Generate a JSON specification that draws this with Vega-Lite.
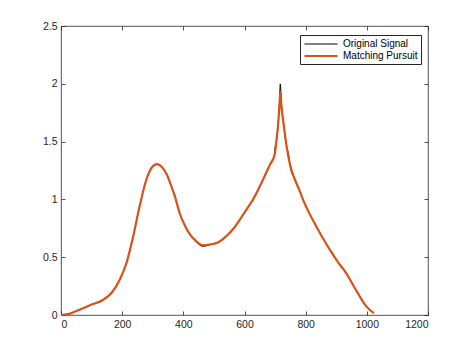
{
  "$schema": "https://vega.github.io/schema/vega-lite/v6.json",
  "width": 367,
  "height": 289,
  "autosize": {"type": "none"},
  "padding": {"left": 61, "top": 26, "right": 46, "bottom": 40},
  "background": "white",
  "config": {
    "font": "Liberation Sans",
    "view": {"stroke": "#262626", "strokeWidth": 0.8},
    "axis": {
      "domain": false,
      "grid": false,
      "tickColor": "#262626",
      "tickWidth": 0.8,
      "tickSize": -4,
      "labelColor": "#262626",
      "labelFontSize": 10.5,
      "labelPadding": 8,
      "titleFontSize": 10
    }
  },
  "datasets": {
    "sig": [
      {"x": 0, "y": 0.0, "series": "Original Signal"},
      {"x": 30, "y": 0.012, "series": "Original Signal"},
      {"x": 60, "y": 0.045, "series": "Original Signal"},
      {"x": 100, "y": 0.09, "series": "Original Signal"},
      {"x": 137, "y": 0.13, "series": "Original Signal"},
      {"x": 165, "y": 0.19, "series": "Original Signal"},
      {"x": 192, "y": 0.305, "series": "Original Signal"},
      {"x": 214, "y": 0.45, "series": "Original Signal"},
      {"x": 236, "y": 0.68, "series": "Original Signal"},
      {"x": 257, "y": 0.94, "series": "Original Signal"},
      {"x": 279, "y": 1.17, "series": "Original Signal"},
      {"x": 298, "y": 1.28, "series": "Original Signal"},
      {"x": 314, "y": 1.306, "series": "Original Signal"},
      {"x": 330, "y": 1.28, "series": "Original Signal"},
      {"x": 345, "y": 1.22, "series": "Original Signal"},
      {"x": 360, "y": 1.12, "series": "Original Signal"},
      {"x": 372, "y": 1.03, "series": "Original Signal"},
      {"x": 388, "y": 0.88, "series": "Original Signal"},
      {"x": 405, "y": 0.775, "series": "Original Signal"},
      {"x": 421, "y": 0.7, "series": "Original Signal"},
      {"x": 440, "y": 0.638, "series": "Original Signal"},
      {"x": 464, "y": 0.594, "series": "Original Signal"},
      {"x": 490, "y": 0.61, "series": "Original Signal"},
      {"x": 513, "y": 0.627, "series": "Original Signal"},
      {"x": 540, "y": 0.68, "series": "Original Signal"},
      {"x": 565, "y": 0.75, "series": "Original Signal"},
      {"x": 601, "y": 0.89, "series": "Original Signal"},
      {"x": 628, "y": 1.0, "series": "Original Signal"},
      {"x": 655, "y": 1.14, "series": "Original Signal"},
      {"x": 683, "y": 1.3, "series": "Original Signal"},
      {"x": 697, "y": 1.37, "series": "Original Signal"},
      {"x": 700, "y": 1.45, "series": "Original Signal"},
      {"x": 704, "y": 1.5, "series": "Original Signal"},
      {"x": 710, "y": 1.65, "series": "Original Signal"},
      {"x": 714, "y": 1.82, "series": "Original Signal"},
      {"x": 717, "y": 2.0, "series": "Original Signal"},
      {"x": 721, "y": 1.82, "series": "Original Signal"},
      {"x": 728, "y": 1.65, "series": "Original Signal"},
      {"x": 737, "y": 1.47, "series": "Original Signal"},
      {"x": 746, "y": 1.36, "series": "Original Signal"},
      {"x": 749, "y": 1.29, "series": "Original Signal"},
      {"x": 765, "y": 1.17, "series": "Original Signal"},
      {"x": 781, "y": 1.07, "series": "Original Signal"},
      {"x": 791, "y": 1.0, "series": "Original Signal"},
      {"x": 810, "y": 0.89, "series": "Original Signal"},
      {"x": 830, "y": 0.79, "series": "Original Signal"},
      {"x": 855, "y": 0.67, "series": "Original Signal"},
      {"x": 879, "y": 0.565, "series": "Original Signal"},
      {"x": 905, "y": 0.46, "series": "Original Signal"},
      {"x": 933, "y": 0.36, "series": "Original Signal"},
      {"x": 955, "y": 0.26, "series": "Original Signal"},
      {"x": 977, "y": 0.16, "series": "Original Signal"},
      {"x": 995, "y": 0.085, "series": "Original Signal"},
      {"x": 1009, "y": 0.045, "series": "Original Signal"},
      {"x": 1023, "y": 0.017, "series": "Original Signal"},
      {"x": 0, "y": 0.0, "series": "Matching Pursuit"},
      {"x": 30, "y": 0.012, "series": "Matching Pursuit"},
      {"x": 60, "y": 0.045, "series": "Matching Pursuit"},
      {"x": 100, "y": 0.09, "series": "Matching Pursuit"},
      {"x": 137, "y": 0.13, "series": "Matching Pursuit"},
      {"x": 165, "y": 0.19, "series": "Matching Pursuit"},
      {"x": 192, "y": 0.305, "series": "Matching Pursuit"},
      {"x": 214, "y": 0.45, "series": "Matching Pursuit"},
      {"x": 236, "y": 0.68, "series": "Matching Pursuit"},
      {"x": 257, "y": 0.94, "series": "Matching Pursuit"},
      {"x": 279, "y": 1.17, "series": "Matching Pursuit"},
      {"x": 298, "y": 1.28, "series": "Matching Pursuit"},
      {"x": 314, "y": 1.306, "series": "Matching Pursuit"},
      {"x": 330, "y": 1.28, "series": "Matching Pursuit"},
      {"x": 345, "y": 1.22, "series": "Matching Pursuit"},
      {"x": 360, "y": 1.12, "series": "Matching Pursuit"},
      {"x": 372, "y": 1.03, "series": "Matching Pursuit"},
      {"x": 388, "y": 0.88, "series": "Matching Pursuit"},
      {"x": 405, "y": 0.775, "series": "Matching Pursuit"},
      {"x": 421, "y": 0.7, "series": "Matching Pursuit"},
      {"x": 440, "y": 0.643, "series": "Matching Pursuit"},
      {"x": 464, "y": 0.603, "series": "Matching Pursuit"},
      {"x": 490, "y": 0.612, "series": "Matching Pursuit"},
      {"x": 513, "y": 0.628, "series": "Matching Pursuit"},
      {"x": 540, "y": 0.68, "series": "Matching Pursuit"},
      {"x": 565, "y": 0.75, "series": "Matching Pursuit"},
      {"x": 601, "y": 0.89, "series": "Matching Pursuit"},
      {"x": 628, "y": 1.0, "series": "Matching Pursuit"},
      {"x": 655, "y": 1.14, "series": "Matching Pursuit"},
      {"x": 683, "y": 1.3, "series": "Matching Pursuit"},
      {"x": 699, "y": 1.39, "series": "Matching Pursuit"},
      {"x": 704, "y": 1.5, "series": "Matching Pursuit"},
      {"x": 710, "y": 1.65, "series": "Matching Pursuit"},
      {"x": 714, "y": 1.8, "series": "Matching Pursuit"},
      {"x": 717, "y": 1.93, "series": "Matching Pursuit"},
      {"x": 721, "y": 1.8, "series": "Matching Pursuit"},
      {"x": 728, "y": 1.65, "series": "Matching Pursuit"},
      {"x": 737, "y": 1.47, "series": "Matching Pursuit"},
      {"x": 748, "y": 1.31, "series": "Matching Pursuit"},
      {"x": 765, "y": 1.17, "series": "Matching Pursuit"},
      {"x": 781, "y": 1.07, "series": "Matching Pursuit"},
      {"x": 791, "y": 1.0, "series": "Matching Pursuit"},
      {"x": 810, "y": 0.89, "series": "Matching Pursuit"},
      {"x": 830, "y": 0.79, "series": "Matching Pursuit"},
      {"x": 855, "y": 0.67, "series": "Matching Pursuit"},
      {"x": 879, "y": 0.565, "series": "Matching Pursuit"},
      {"x": 905, "y": 0.46, "series": "Matching Pursuit"},
      {"x": 933, "y": 0.36, "series": "Matching Pursuit"},
      {"x": 955, "y": 0.26, "series": "Matching Pursuit"},
      {"x": 977, "y": 0.16, "series": "Matching Pursuit"},
      {"x": 995, "y": 0.085, "series": "Matching Pursuit"},
      {"x": 1009, "y": 0.045, "series": "Matching Pursuit"},
      {"x": 1023, "y": 0.017, "series": "Matching Pursuit"}
    ]
  },
  "data": {"name": "sig"},
  "layer": [
    {
      "transform": [{"filter": "datum.series === 'Original Signal'"}],
      "mark": {"type": "line", "interpolate": "monotone"},
      "encoding": {
        "x": {"field": "x", "type": "quantitative", "scale": {"domain": [0, 1200], "nice": false},
              "axis": {"orient": "bottom", "title": null, "values": [0, 200, 400, 600, 800, 1000, 1200], "format": "d"}},
        "y": {"field": "y", "type": "quantitative", "scale": {"domain": [0, 2.5], "nice": false},
              "axis": {"orient": "left", "title": null, "values": [0, 0.5, 1, 1.5, 2, 2.5], "format": "~g"}},
        "color": {"field": "series", "type": "nominal",
                  "scale": {"domain": ["Original Signal", "Matching Pursuit"], "range": ["#000000", "#D95319"]},
                  "legend": {
                    "title": null, "orient": "none", "legendX": 239, "legendY": 9,
                    "fillColor": "white", "strokeColor": "#262626", "padding": 3,
                    "symbolType": "M-1,0H5", "symbolSize": 121, "symbolStrokeWidth": 1.5,
                    "labelOffset": 26, "labelFontSize": 10, "labelColor": "#000000",
                    "rowPadding": 0,
                    "encode": {"symbols": {"update": {"strokeWidth": {"signal": "datum.value === 'Original Signal' ? 1 : 2"}}}}
                  }},
        "strokeWidth": {"field": "series", "type": "nominal",
                        "scale": {"domain": ["Original Signal", "Matching Pursuit"], "range": [1, 2.2]}, "legend": null}
      }
    },
    {
      "transform": [{"filter": "datum.series === 'Matching Pursuit'"}],
      "mark": {"type": "line", "interpolate": "monotone"},
      "encoding": {
        "x": {"field": "x", "type": "quantitative", "scale": {"domain": [0, 1200], "nice": false},
              "axis": {"orient": "top", "title": null, "values": [0, 200, 400, 600, 800, 1000, 1200], "labels": false}},
        "y": {"field": "y", "type": "quantitative", "scale": {"domain": [0, 2.5], "nice": false},
              "axis": {"orient": "right", "title": null, "values": [0, 0.5, 1, 1.5, 2, 2.5], "labels": false}},
        "color": {"field": "series", "type": "nominal"},
        "strokeWidth": {"field": "series", "type": "nominal", "legend": null}
      }
    }
  ],
  "resolve": {"axis": {"x": "independent", "y": "independent"}}
}
